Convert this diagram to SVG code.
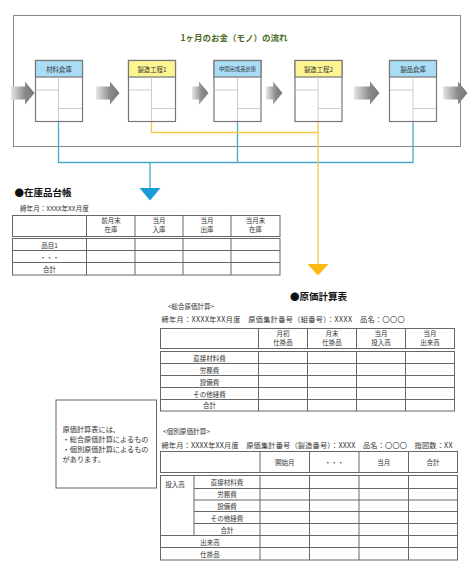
<svg xmlns="http://www.w3.org/2000/svg" width="474" height="579" viewBox="0 0 474 579">
<style>
text{font-family:"Noto Sans CJK JP","Noto Sans",sans-serif;fill:#333}
.t{font-size:6.5px;text-anchor:middle;dominant-baseline:central}
.s{font-size:6.8px;dominant-baseline:central}
.nn{font-size:7.2px;dominant-baseline:central}
.h{font-size:9.5px;font-weight:bold;fill:#111;dominant-baseline:central}
.box{fill:#fff;stroke:#777;stroke-width:1.2}
.hb{fill:#a9dcf5;stroke:#777;stroke-width:1.2}
.hy{fill:#fdf591;stroke:#777;stroke-width:1.2}
.in{stroke:#ccc;stroke-width:1;fill:none}
.nt{font-size:6.4px;text-anchor:middle;dominant-baseline:central;fill:#333}
.tb{fill:#fff;stroke:#666;stroke-width:1}
.ln{stroke:#666;stroke-width:1;fill:none}
.arr{fill:url(#g)}
</style>
<defs>
<linearGradient id="g" x1="0" y1="0" x2="1" y2="0">
<stop offset="0" stop-color="#e6e6e6"/>
<stop offset="0.6" stop-color="#8a8a8a"/>
<stop offset="1" stop-color="#777"/>
</linearGradient>
</defs>
<rect width="474" height="579" fill="#fff"/>
<rect x="13.5" y="15.5" width="447" height="131" fill="none" stroke="#888" stroke-width="1"/>
<text x="234" y="37" text-anchor="middle" dominant-baseline="central" style="font-size:8.5px;font-weight:bold;fill:#4d6b1f">1ヶ月のお金（モノ）の流れ</text>

<g id="connectors">
<polyline points="58.5,121 58.5,162.5 413,162.5 413,121" fill="none" stroke="#4aa8c8" stroke-width="1.3"/>
<line x1="237.5" y1="121" x2="237.5" y2="162.5" stroke="#4aa8c8" stroke-width="1.3"/>
<line x1="150" y1="162.5" x2="150" y2="189" stroke="#4aa8c8" stroke-width="1.3"/>
<polygon points="139.5,188 160.5,188 150,200.5" fill="#1a9ad6"/>
<polyline points="151.5,121 151.5,132.5 318,132.5 318,121" fill="none" stroke="#f5c64a" stroke-width="1.3"/>
<line x1="318" y1="132.5" x2="318" y2="265" stroke="#f5c64a" stroke-width="1.3"/>
<polygon points="307.5,264 328.5,264 318,275.5" fill="#fdb913"/>
<path class="arr" d="M11,86.5 H25 V81.5 L34.5,93 L25,104.5 V99.5 H11 Z"/>
<path class="arr" d="M96,86.5 H110 V81.5 L119.5,93 L110,104.5 V99.5 H96 Z"/>
<path class="arr" d="M192,86.5 H199 V81.5 L208.5,93 L199,104.5 V99.5 H192 Z"/>
<path class="arr" d="M266,86.5 H273 V81.5 L282.5,93 L273,104.5 V99.5 H266 Z"/>
<path class="arr" d="M354,86.5 H370 V81.5 L379.5,93 L370,104.5 V99.5 H354 Z"/>
<path class="arr" d="M443,86.5 H458 V81.5 L467.5,93 L458,104.5 V99.5 H443 Z"/>
</g>

<g id="n1">
<rect class="box" x="35.5" y="60.5" width="47" height="61"/>
<rect class="hb" x="35.5" y="60.5" width="47" height="16.5"/>
<path class="in" d="M58.5,77.5 V121 M36,90 H58.5 M58.5,108.5 H82"/>
<text class="nt" x="59" y="69">材料倉庫</text>
</g>
<g id="n2">
<rect class="box" x="128.5" y="60.5" width="47" height="61"/>
<rect class="hy" x="128.5" y="60.5" width="47" height="16.5"/>
<path class="in" d="M151.5,77.5 V121 M129,90 H151.5 M151.5,108.5 H175"/>
<text class="nt" x="152" y="69">製造工程1</text>
</g>
<g id="n3">
<rect class="box" x="214" y="60.5" width="47" height="61"/>
<rect class="hb" x="214" y="60.5" width="47" height="16.5"/>
<path class="in" d="M237.5,77.5 V121 M214.5,90 H237.5 M237.5,108.5 H260.5"/>
<text class="nt" x="237.5" y="69" style="font-size:5.3px">中間完成品倉庫</text>
</g>
<g id="n4">
<rect class="box" x="295" y="60.5" width="47" height="61"/>
<rect class="hy" x="295" y="60.5" width="47" height="16.5"/>
<path class="in" d="M318,77.5 V121 M295.5,90 H318 M318,108.5 H341.5"/>
<text class="nt" x="318.5" y="69">製造工程2</text>
</g>
<g id="n5">
<rect class="box" x="389.5" y="60.5" width="47" height="61"/>
<rect class="hb" x="389.5" y="60.5" width="47" height="16.5"/>
<path class="in" d="M413,77.5 V121 M390,90 H413 M413,108.5 H436"/>
<text class="nt" x="413" y="69">製品倉庫</text>
</g>

<g id="zaiko">
<text class="h" x="14.5" y="191.5">●在庫品台帳</text>
<text class="s" x="20" y="207.5" style="font-size:6.6px">締年月：XXXX年XX月度</text>
<rect class="tb" x="12.5" y="215.5" width="267.5" height="21"/>
<path class="ln" d="M86.5,215.5 V236.5 M135,215.5 V236.5 M183,215.5 V236.5 M231,215.5 V236.5"/>
<text class="t" x="111" y="219.5">前月末</text><text class="t" x="111" y="229">在庫</text>
<text class="t" x="159" y="219.5">当月</text><text class="t" x="159" y="229">入庫</text>
<text class="t" x="207" y="219.5">当月</text><text class="t" x="207" y="229">出庫</text>
<text class="t" x="255.5" y="219.5">当月末</text><text class="t" x="255.5" y="229">在庫</text>
<rect class="tb" x="12.5" y="238.5" width="267.5" height="36.5"/>
<path class="ln" d="M12.5,250.5 H280 M12.5,262.5 H280 M86.5,238.5 V275 M135,238.5 V275 M183,238.5 V275 M231,238.5 V275"/>
<text class="t" x="49.5" y="244.5">品目1</text>
<text class="t" x="49.5" y="256.5">・・・</text>
<text class="t" x="49.5" y="268.8">合計</text>
</g>

<g id="genka">
<text class="h" x="290" y="296">●原価計算表</text>
<text class="s" x="168" y="305.5" style="font-size:6.5px">&lt;総合原価計算&gt;</text>
<text class="s" x="161.5" y="318.5" style="font-size:7.1px" textLength="243" lengthAdjust="spacing">締年月：XXXX年XX月度　原価集計番号（組番号）：XXXX　品名：〇〇〇</text>
<rect class="tb" x="160.5" y="328.5" width="294" height="20"/>
<path class="ln" d="M258.5,328.5 V348.5 M307.5,328.5 V348.5 M356.5,328.5 V348.5 M405.5,328.5 V348.5"/>
<text class="t" x="283" y="332.5">月初</text><text class="t" x="283" y="341.5">仕掛品</text>
<text class="t" x="332" y="332.5">月末</text><text class="t" x="332" y="341.5">仕掛品</text>
<text class="t" x="381" y="332.5">当月</text><text class="t" x="381" y="341.5">投入高</text>
<text class="t" x="430" y="332.5">当月</text><text class="t" x="430" y="341.5">出来高</text>
<rect class="tb" x="160.5" y="351.5" width="294" height="59.5"/>
<path class="ln" d="M160.5,363.5 H454.5 M160.5,375.5 H454.5 M160.5,387.5 H454.5 M160.5,399.5 H454.5 M258.5,351.5 V411 M307.5,351.5 V411 M356.5,351.5 V411 M405.5,351.5 V411"/>
<text class="t" x="209.5" y="357.5">直接材料費</text>
<text class="t" x="209.5" y="369.5">労務費</text>
<text class="t" x="209.5" y="381.5">設備費</text>
<text class="t" x="209.5" y="393.5">その他経費</text>
<text class="t" x="209.5" y="405.2">合計</text>
</g>

<g id="note">
<rect class="tb" x="56" y="400" width="100.5" height="88"/>
<text class="nn" x="62.5" y="428.5">原価計算表には、</text>
<text class="nn" x="62.5" y="438.5">・総合原価計算によるもの</text>
<text class="nn" x="62.5" y="448.5">・個別原価計算によるもの</text>
<text class="nn" x="62.5" y="458.5">があります。</text>
</g>

<g id="kobetsu">
<text class="s" x="163" y="431" style="font-size:6.6px">&lt;個別原価計算&gt;</text>
<text class="s" x="161.5" y="444.5" style="font-size:7.2px" textLength="291" lengthAdjust="spacing">締年月：XXXX年XX月度　原価集計番号（製造番号）：XXXX　品名：〇〇〇　指図数：XX</text>
<rect class="tb" x="160.5" y="451.5" width="297" height="21"/>
<path class="ln" d="M260,451.5 V472.5 M309.5,451.5 V472.5 M359,451.5 V472.5 M408.5,451.5 V472.5"/>
<text class="t" x="284.7" y="462">開始月</text>
<text class="t" x="334.2" y="462">・・・</text>
<text class="t" x="383.7" y="462">当月</text>
<text class="t" x="433" y="462">合計</text>
<rect class="tb" x="160.5" y="475.5" width="297" height="84.5"/>
<path class="ln" d="M194,488.5 H457.5 M194,500 H457.5 M194,511.5 H457.5 M194,523.5 H457.5 M160.5,535.5 H457.5 M160.5,547.5 H457.5 M194,475.5 V535.5 M260,475.5 V560 M309.5,475.5 V560 M359,475.5 V560 M408.5,475.5 V560"/>
<text class="t" x="175" y="484">投入高</text>
<text class="t" x="227" y="482">直接材料費</text>
<text class="t" x="227" y="494">労務費</text>
<text class="t" x="227" y="505.7">設備費</text>
<text class="t" x="227" y="517.5">その他経費</text>
<text class="t" x="227" y="529.5">合計</text>
<text class="t" x="210" y="541.5">出来高</text>
<text class="t" x="210" y="553.8">仕掛品</text>
</g>
</svg>
